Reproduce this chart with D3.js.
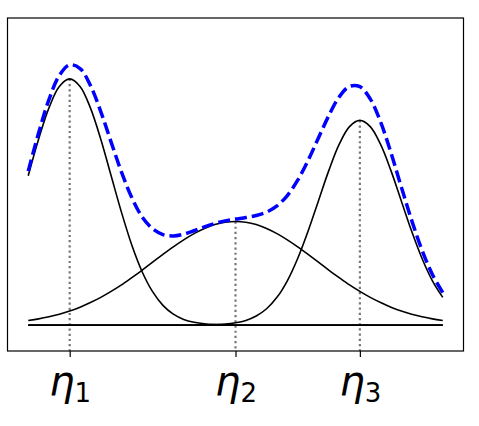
<!DOCTYPE html>
<html>
<head>
<meta charset="utf-8">
<script src="https://cdn.jsdelivr.net/npm/d3@7"></script>
<style>
  body { margin: 0; background: #fff; }
  svg { display: block; }
</style>
</head>
<body>
<svg id="chart"></svg>
<script>
const width = 479,
    height = 426
const box = { left: 7.5, right: 463.5, top: 18, bottom: 351 }

// sample positions along x
const xs = [0, 0.025, 0.05, 0.075, 0.1, 0.125, 0.15, 0.175, 0.2, 0.225,
    0.25, 0.275, 0.3, 0.325, 0.35, 0.375, 0.4, 0.425, 0.45, 0.475,
    0.5, 0.525, 0.55, 0.575, 0.6, 0.625, 0.65, 0.675, 0.7, 0.725,
    0.75, 0.775, 0.8, 0.825, 0.85, 0.875, 0.9, 0.925, 0.95, 0.975, 1]

// the three component curves
const comp1 = [0.576, 0.717, 0.838, 0.921, 0.95, 0.921, 0.838, 0.717, 0.576, 0.435,
    0.308, 0.205, 0.129, 0.076, 0.042, 0.022, 0.011, 0.005, 0.002, 0.001,
    0, 0, 0, 0, 0, 0, 0, 0, 0, 0,
    0, 0, 0, 0, 0, 0, 0, 0, 0, 0, 0]
const comp2 = [0.018, 0.024, 0.032, 0.042, 0.054, 0.069, 0.087, 0.107, 0.13, 0.155,
    0.183, 0.212, 0.243, 0.273, 0.302, 0.329, 0.353, 0.373, 0.388, 0.397,
    0.4, 0.397, 0.388, 0.373, 0.353, 0.329, 0.302, 0.273, 0.243, 0.212,
    0.183, 0.155, 0.13, 0.107, 0.087, 0.069, 0.054, 0.042, 0.032, 0.024, 0.018]
const comp3 = [0, 0, 0, 0, 0, 0, 0, 0, 0, 0,
    0, 0, 0, 0, 0, 0, 0, 0.001, 0.002, 0.004,
    0.009, 0.018, 0.035, 0.063, 0.107, 0.171, 0.257, 0.362, 0.479, 0.596,
    0.697, 0.766, 0.79, 0.766, 0.697, 0.596, 0.479, 0.362, 0.257, 0.171, 0.107]

// the dashed total curve
const total = [0.594, 0.741, 0.87, 0.963, 1.004, 0.99, 0.925, 0.824, 0.706, 0.59,
    0.491, 0.417, 0.372, 0.349, 0.344, 0.351, 0.364, 0.379, 0.392, 0.402,
    0.409, 0.415, 0.423, 0.436, 0.46, 0.5, 0.559, 0.635, 0.722, 0.808,
    0.88, 0.921, 0.92, 0.873, 0.784, 0.665, 0.533, 0.404, 0.289, 0.195, 0.125]

// component centres and their peak heights
const etaPos = [0.1, 0.5, 0.8]
const etaPeak = [0.95, 0.40, 0.79]
const etaSub = ['1', '2', '3']

const svg = d3.select('#chart')
    .attr('width', width)
    .attr('height', height)

const x = d3.scaleLinear()
    .domain([-0.05, 1.05])
    .range([box.left, box.right])

const y = d3.scaleLinear()
    .domain([-0.1, 1.185])
    .range([box.bottom, box.top])

const line = d3.line()
    .x((d, i) => x(xs[i]))
    .y(d => y(d))
    .curve(d3.curveCatmullRom.alpha(0.5))

// dotted guides from each peak down to the bottom
svg.append('g')
    .selectAll('line')
    .data(etaPos)
    .join('line')
      .attr('x1', d => x(d))
      .attr('x2', d => x(d))
      .attr('y1', (d, i) => y(etaPeak[i]))
      .attr('y2', y(-0.1))
      .attr('stroke', '#777')
      .attr('stroke-width', 2.2)
      .attr('stroke-dasharray', '2.2,3')

// baseline
svg.append('line')
    .attr('x1', x(0))
    .attr('x2', x(1))
    .attr('y1', y(0))
    .attr('y2', y(0))
    .attr('stroke', '#000')
    .attr('stroke-width', 1.6)

// component curves
svg.append('g')
    .selectAll('path')
    .data([comp1, comp2, comp3])
    .join('path')
      .attr('d', line)
      .attr('fill', 'none')
      .attr('stroke', '#000')
      .attr('stroke-width', 1.6)

// total, dashed blue
svg.append('path')
    .datum(total)
    .attr('d', line)
    .attr('fill', 'none')
    .attr('stroke', '#0000ff')
    .attr('stroke-width', 3.5)
    .attr('stroke-dasharray', '12,5')

// frame
svg.append('rect')
    .attr('x', box.left)
    .attr('y', box.top)
    .attr('width', box.right - box.left)
    .attr('height', box.bottom - box.top)
    .attr('fill', 'none')
    .attr('stroke', '#000')
    .attr('stroke-width', 1.2)

// x axis with eta tick labels
const xAxis = svg.append('g')
    .attr('transform', `translate(0,${box.bottom})`)
    .call(d3.axisBottom(x).tickValues(etaPos).tickSize(6).tickFormat(''))

xAxis.select('.domain').remove()
xAxis.selectAll('.tick line').attr('stroke', '#000').attr('stroke-width', 1.2)

const labels = xAxis.selectAll('.tick')
    .append('text')
      .attr('fill', '#000')
      .attr('y', 44)
      .attr('text-anchor', 'middle')
      .style('font-family', '"DejaVu Sans", sans-serif')

labels.append('tspan')
    .style('font-style', 'italic')
    .style('font-size', '40px')
    .text('η')

labels.append('tspan')
    .attr('dy', 7)
    .style('font-size', '26px')
    .text((d, i) => etaSub[i])
</script>
</body>
</html>
